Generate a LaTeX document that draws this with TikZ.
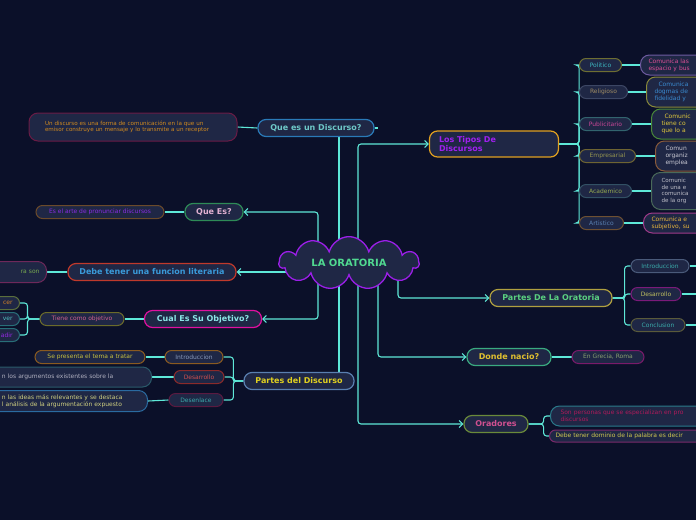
\documentclass[tikz,border=0pt]{standalone}
\usepackage{fontspec}
\setmainfont{DejaVu Sans}
\usetikzlibrary{shapes.symbols,arrows.meta}
\pgfdeclarelayer{bgl}\pgfdeclarelayer{lines}\pgfsetlayers{bgl,lines,main}
\definecolor{bgc}{HTML}{0B1029}
\definecolor{boxc}{HTML}{1F2745}
\definecolor{lnc}{HTML}{5EE8D8}
\tikzset{
 pill/.style 2 args={draw={#1},text={#2},fill=boxc,rounded corners=6.5pt,line width=1pt,font=\fontsize{6}{7}\selectfont,inner xsep=6pt,inner ysep=1pt,minimum height=13pt},
 mainb/.style 2 args={draw={#1},text={#2},fill=boxc,rounded corners=8pt,line width=1.2pt,font=\bfseries\fontsize{8}{9.5}\selectfont,inner xsep=6pt,minimum height=17pt},
 desc/.style 2 args={draw={#1},text={#2},fill=boxc,rounded corners=9pt,line width=1pt,font=\fontsize{6}{7}\selectfont,inner xsep=7pt,inner ysep=2pt,align=left},
 conn/.style={draw=lnc,line width=1.1pt,rounded corners=3pt},
 arr/.style={conn,-{Straight Barb[length=3.5pt,width=7pt]}},
}
\begin{document}
\begin{tikzpicture}[x=1pt,y=-1pt]
\begin{pgfonlayer}{bgl}
\fill[bgc] (0,0) rectangle (696,520);
\end{pgfonlayer}
\useasboundingbox (0,0) rectangle (696,520);
% center
\node[cloud,cloud puffs=11,aspect=3.6,draw={rgb,255:red,155;green,31;blue,232},line width=1.3pt,fill=boxc,text={rgb,255:red,80;green,216;blue,144},font=\bfseries\fontsize{10}{12}\selectfont,minimum width=140pt,minimum height=38pt,inner sep=1pt] (c) at (349,263) {LA ORATORIA};
% left side
\node[mainb={rgb,255:red,42;green,122;blue,184}{rgb,255:red,110;green,200;blue,200},minimum width=116pt] (qd) at (316,128) {Que es un Discurso?};
\node[desc={rgb,255:red,106;green,27;blue,69}{rgb,255:red,208;green,138;blue,32},minimum width=208pt,text width=176pt,minimum height=28pt,font=\fontsize{5.6}{6.6}\selectfont] (def) at (133,127) {Un discurso es una forma de comunicación en la que un emisor construye un mensaje y lo transmite a un receptor};
\node[mainb={rgb,255:red,46;green,139;blue,87}{rgb,255:red,224;green,176;blue,208},minimum width=58pt] (qe) at (214,212) {Que Es?};
\node[pill={rgb,255:red,107;green,74;blue,42}{rgb,255:red,138;green,43;blue,226},minimum width=128pt] (arte) at (100,212) {Es el arte de pronunciar discursos};
\node[mainb={rgb,255:red,192;green,57;blue,43}{rgb,255:red,58;green,154;blue,217},minimum width=168pt] (debe) at (152,272) {Debe tener una funcion literaria};
\node[desc={rgb,255:red,110;green,40;blue,90}{rgb,255:red,120;green,170;blue,80},anchor=east,minimum width=70pt,text width=56pt,minimum height=21pt,align=right] (rason) at (47,272) {ra son};
\node[mainb={rgb,255:red,224;green,16;blue,160}{rgb,255:red,140;green,230;blue,230},minimum width=117pt] (cual) at (203,319) {Cual Es Su Objetivo?};
\node[pill={rgb,255:red,107;green,107;blue,42}{rgb,255:red,208;green,96;blue,144},minimum width=84pt] (tiene) at (82,319) {Tiene como objetivo};
\node[pill={rgb,255:red,90;green,110;blue,60}{rgb,255:red,210;green,130;blue,40},anchor=east,minimum width=40pt,text width=26pt,align=right] (o1) at (20,303) {cer};
\node[pill={rgb,255:red,40;green,110;blue,120}{rgb,255:red,80;green,190;blue,190},anchor=east,minimum width=40pt,text width=26pt,align=right] (o2) at (20,319) {ver};
\node[pill={rgb,255:red,40;green,110;blue,120}{rgb,255:red,150;green,40;blue,230},anchor=east,minimum width=40pt,text width=26pt,align=right] (o3) at (20,335) {adir};
\node[mainb={rgb,255:red,90;green,127;blue,176}{rgb,255:red,224;green,208;blue,32},minimum width=110pt] (pd) at (299,381) {Partes del Discurso};
\node[pill={rgb,255:red,138;green,90;blue,32}{rgb,255:red,136;green,153;blue,187},minimum width=58pt] (d1) at (194,357) {Introduccion};
\node[pill={rgb,255:red,138;green,42;blue,42}{rgb,255:red,208;green,80;blue,80},minimum width=50pt] (d2) at (199,377) {Desarrollo};
\node[pill={rgb,255:red,90;green,26;blue,64}{rgb,255:red,58;green,170;blue,170},minimum width=54pt] (d3) at (196,400) {Desenlace};
\node[pill={rgb,255:red,138;green,90;blue,32}{rgb,255:red,200;green,192;blue,64},minimum width=110pt] (e1) at (90,357) {Se presenta el tema a tratar};
\node[desc={rgb,255:red,42;green,90;blue,106}{rgb,255:red,176;green,176;blue,192},anchor=east,minimum width=165pt,text width=150pt,minimum height=20pt] (e2) at (152,377) {\hspace*{8pt}n los argumentos existentes sobre la};
\node[desc={rgb,255:red,42;green,106;blue,160}{rgb,255:red,208;green,208;blue,128},anchor=east,minimum width=162pt,text width=147pt,minimum height=21pt] (e3) at (148,401) {\hspace*{9pt}n las ideas más relevantes y se destaca\\\hspace*{9pt}l análisis de la argumentación expuesto};
% right side
\node[mainb={rgb,255:red,224;green,160;blue,32}{rgb,255:red,160;green,32;blue,240},minimum width=129pt,minimum height=26pt,text width=110pt,align=left] (tipos) at (494,144) {Los Tipos De\\Discursos};
\foreach \n/\t/\y/\w/\bc/\tc in {t1/Politico/65/42/{rgb,255:red,110;green,110;blue,50}/{rgb,255:red,60;green,180;blue,190},
 t2/Religioso/92/48/{rgb,255:red,60;green,70;blue,100}/{rgb,255:red,160;green,140;blue,100},
 t3/Publicitario/124/52/{rgb,255:red,50;green,100;blue,110}/{rgb,255:red,200;green,70;blue,150},
 t4/Empresarial/156/56/{rgb,255:red,110;green,100;blue,50}/{rgb,255:red,150;green,150;blue,80},
 t5/Academico/191/52/{rgb,255:red,50;green,80;blue,100}/{rgb,255:red,150;green,170;blue,80},
 t6/Artistico/223/44/{rgb,255:red,110;green,80;blue,50}/{rgb,255:red,90;green,130;blue,180}}
 {\node[pill={\bc}{\tc},anchor=west,minimum width=\w pt] (\n) at (579,\y) {\t};}
\node[desc={rgb,255:red,110;green,90;blue,160}{rgb,255:red,220;green,80;blue,150},anchor=west,minimum width=80pt,text width=64pt,minimum height=20pt] (p1) at (640,65) {Comunica las\\espacio y bus};
\node[desc={rgb,255:red,138;green,138;blue,58}{rgb,255:red,58;green,138;blue,208},anchor=west,minimum width=80pt,text width=64pt,minimum height=30pt] (p2) at (646,92) {\hspace*{4pt}Comunica\\dogmas de\\fidelidad y};
\node[desc={rgb,255:red,74;green,138;blue,58}{rgb,255:red,224;green,200;blue,60},anchor=west,minimum width=80pt,text width=60pt,minimum height=30pt] (p3) at (651,124) {\hspace*{3pt}Comunic\\tiene co\\que lo a};
\node[desc={rgb,255:red,138;green,90;blue,58}{rgb,255:red,200;green,200;blue,210},anchor=west,minimum width=80pt,text width=60pt,minimum height=30pt] (p4) at (655,156) {Comun\\organiz\\emplea};
\node[desc={rgb,255:red,74;green,106;blue,90}{rgb,255:red,190;green,190;blue,200},anchor=west,minimum width=80pt,text width=60pt,minimum height=37pt,font=\fontsize{5.6}{6.4}\selectfont] (p5) at (651,191) {Comunic\\de una e\\comunica\\de la org};
\node[desc={rgb,255:red,160;green,58;blue,138}{rgb,255:red,230;green,180;blue,60},anchor=west,minimum width=80pt,text width=64pt,minimum height=20pt] (p6) at (643,223) {Comunica e\\subjetivo, su};
\node[mainb={rgb,255:red,176;green,160;blue,64}{rgb,255:red,90;green,208;blue,128},minimum width=122pt] (po) at (551,298) {Partes De La Oratoria};
\node[pill={rgb,255:red,74;green,90;blue,122}{rgb,255:red,58;green,170;blue,170},minimum width=58pt] (r1) at (660,266) {Introduccion};
\node[pill={rgb,255:red,122;green,26;blue,122}{rgb,255:red,192;green,192;blue,96},minimum width=50pt] (r2) at (656,294) {Desarrollo};
\node[pill={rgb,255:red,90;green,90;blue,58}{rgb,255:red,58;green,170;blue,170},minimum width=54pt] (r3) at (658,325) {Conclusion};
\node[mainb={rgb,255:red,58;green,170;blue,128}{rgb,255:red,224;green,192;blue,48},minimum width=84pt] (donde) at (509,357) {Donde nacio?};
\node[pill={rgb,255:red,122;green,26;blue,106}{rgb,255:red,138;green,160;blue,112},minimum width=72pt] (grecia) at (608,357) {En Grecia, Roma};
\node[mainb={rgb,255:red,106;green,138;blue,58}{rgb,255:red,208;green,80;blue,144},minimum width=64pt] (orad) at (496,424) {Oradores};
\node[desc={rgb,255:red,42;green,122;blue,138}{rgb,255:red,176;green,26;blue,90},anchor=west,minimum width=170pt,text width=150pt,minimum height=20pt] (o4) at (550,416) {Son personas que se especializan en pro\\discursos};
\node[pill={rgb,255:red,122;green,42;blue,106}{rgb,255:red,208;green,200;blue,80},anchor=west,minimum width=160pt,text width=148pt,minimum height=12pt,align=left,inner ysep=0.5pt,rounded corners=6pt] (o5) at (549,436) {Debe tener dominio de la palabra es decir};
% connectors
\begin{pgfonlayer}{lines}
\draw[conn] ([xshift=23]qd.south) -- ([xshift=40]pd.north);
\draw[conn] (qd.west) -- (def.east);
\draw[conn] (qd.east) -- ++(3,0);
\draw[arr] ([xshift=-31]c.center) |- (qe.east);
\draw[arr] (c.center |- debe.east) -- (debe.east);
\draw[arr] ([xshift=-31]c.center) |- (cual.east);
\draw[arr] ([xshift=9]c.center) |- (tipos.west);
\draw[arr] ([xshift=9]c.center) |- (orad.west);
\draw[arr] ([xshift=29]c.center) |- (donde.west);
\draw[arr] ([xshift=49]c.center) |- (po.west);
\draw[conn] (qe.west) -- (arte.east);
\draw[conn] (debe.west) -- (rason.east);
\draw[conn] (cual.west) -- (tiene.east);
\foreach \o in {o1,o2,o3} \draw[conn] (tiene.west) -- ++(-12,0) |- (\o.east);
\foreach \d/\e in {d1/e1,d2/e2,d3/e3} {\draw[conn] (pd.west) -- ++(-10,0) |- (\d.east); \draw[conn] (\d.west) -- (\e.east);}
\foreach \t/\p in {t1/p1,t2/p2,t3/p3,t4/p4,t5/p5,t6/p6} {\draw[conn] (tipos.east) -- ++(20,0) |- (\t.west); \draw[conn] (\t.east) -- (\p.west);}
\foreach \r in {r1,r2,r3} {\draw[conn] (po.east) -- ++(12,0) |- (\r.west); \draw[conn] (\r.east) -- ++(20,0);}
\draw[conn] (donde.east) -- (grecia.west);
\foreach \o in {o4,o5} \draw[conn] (orad.east) -- ++(15,0) |- (\o.west);
\end{pgfonlayer}
\end{tikzpicture}
\end{document}
